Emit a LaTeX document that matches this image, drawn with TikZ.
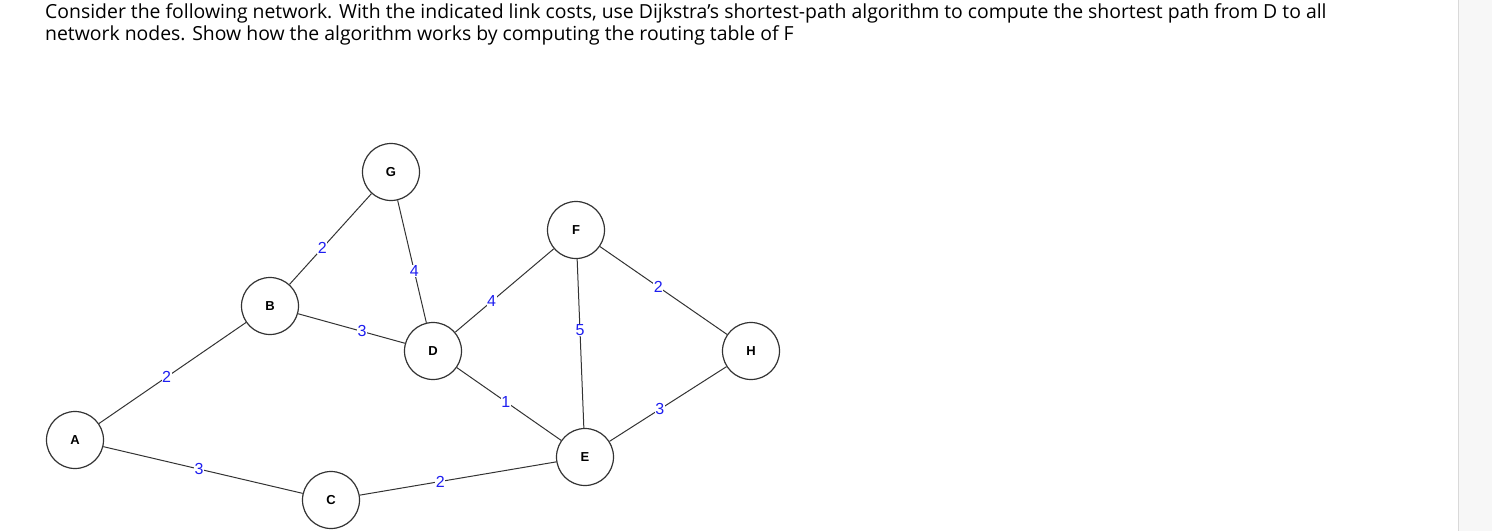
\documentclass[tikz,border=0pt]{standalone}
\usepackage{fontspec}
\setmainfont{Open Sans}
\newfontfamily\arialf{Liberation Sans}
\definecolor{lblblue}{RGB}{30,30,240}
\begin{document}
\begin{tikzpicture}[x=1pt,y=-1pt,
  vtx/.style={circle,draw=black!80,line width=1.2pt,fill=white,minimum size=57pt,inner sep=0pt,font=\arialf\bfseries\fontsize{13}{14}\selectfont},
  edge/.style={draw=black!80,line width=1pt},
  lbl/.style={fill=white,inner sep=0.5pt,text=lblblue,font=\arialf\fontsize{16}{17}\selectfont}]
\useasboundingbox (0,0) rectangle (1492,531);
\fill[black!3] (1458,0) rectangle (1492,531);
\draw[black!15,line width=1pt] (1458,0) -- (1458,531);
\node[anchor=north west,align=left,inner sep=0pt,font=\fontsize{19.4}{22.5}\selectfont] (title) at (45,3)
 {Consider the following network. With the indicated link costs, use Dijkstra’s shortest-path algorithm to compute the shortest path from D to all\\network nodes. Show how the algorithm works by computing the routing table of F};
\node[vtx] (G) at (391,172) {G};
\node[vtx] (F) at (576,230) {F};
\node[vtx] (B) at (270,306) {B};
\node[vtx] (D) at (433,351) {D};
\node[vtx] (H) at (751,351) {H};
\node[vtx] (A) at (75,440) {A};
\node[vtx] (E) at (585,457) {E};
\node[vtx] (C) at (331,500) {C};
\path[edge] (A) -- node[lbl,pos=0.46]{2} (B);
\path[edge] (B) -- node[lbl,pos=0.4]{2} (G);
\path[edge] (G) -- node[lbl,pos=0.58]{4} (D);
\path[edge] (B) -- node[lbl,pos=0.6]{3} (D);
\path[edge] (D) -- node[lbl,pos=0.37]{4} (F);
\path[edge] (F) -- node[lbl,pos=0.42]{5} (E);
\path[edge] (F) -- node[lbl,pos=0.46]{2} (H);
\path[edge] (D) -- node[lbl,pos=0.47]{1} (E);
\path[edge] (E) -- node[lbl,pos=0.43]{3} (H);
\path[edge] (A) -- node[lbl,pos=0.48]{3} (C);
\path[edge] (C) -- node[lbl,pos=0.41]{2} (E);
\end{tikzpicture}
\end{document}
